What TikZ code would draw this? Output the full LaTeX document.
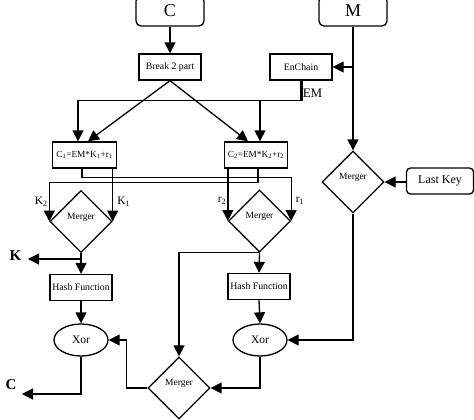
\documentclass[tikz,border=0pt]{standalone}
\usepackage{fontspec}
\setmainfont{Liberation Serif}
\usetikzlibrary{shapes.geometric}
\usetikzlibrary{arrows.meta}

\newcommand{\mergetext}{\raisebox{2.5pt}[0pt][0pt]{Merger}}

\begin{document}
\begin{tikzpicture}[x=1pt,y=-1pt,line width=1.3pt,
  >={Triangle[length=11pt,width=11pt]},
  box/.style={draw,minimum width=62pt,minimum height=26pt,inner sep=1pt,font=\fontsize{9.8}{10}\selectfont},
  term/.style={draw,rounded corners=5pt,minimum width=68pt,minimum height=30pt,font=\fontsize{18}{18}\selectfont},
  merger/.style={draw,diamond,minimum width=62pt,minimum height=62pt,inner sep=0pt,font=\fontsize{9.5}{10}\selectfont},
  xorop/.style={draw,ellipse,minimum width=54pt,minimum height=32pt,inner sep=0pt,font=\fontsize{11.5}{12}\selectfont},
  lbl/.style={font=\fontsize{11.5}{12}\selectfont,inner sep=0pt},
  outlbl/.style={font=\fontsize{15}{15}\selectfont\bfseries,inner sep=0pt}]
  \clip (0,0) rectangle (474,420);
%  top row
  \node[term] (C) at (170,11) {C};
  \node[term] (M) at (353,11) {M};
  \node[box] (break) at (170,67) {Break 2 part};
  \node[box] (enchain) at (301,67) {EnChain};
  \node[box,minimum width=64pt,font=\fontsize{9.3}{10}\selectfont] (c1) at (84.5,155) {C\textsubscript{1}=EM*K\textsubscript{1}+r\textsubscript{1}};
  \node[box,minimum width=63pt,font=\fontsize{9.3}{10}\selectfont] (c2) at (256,155) {C\textsubscript{2}=EM*K\textsubscript{2}+r\textsubscript{2}};
  \node[merger] (mergeL) at (81,221.5) {\mergetext};
  \node[merger] (mergeR) at (259.5,221) {\mergetext};
  \node[merger] (mergeM) at (353,182) {\mergetext};
  \node[box,rounded corners=4pt,minimum width=67pt,font=\fontsize{12}{12}\selectfont] (lastkey) at (440,181) {Last Key};
  \node[box] (hashL) at (81,287.5) {Hash Function};
  \node[box] (hashR) at (259,286.5) {Hash Function};
  \node[xorop] (xorL) at (81,340) {Xor};
  \node[xorop] (xorR) at (260,340) {Xor};
  \node[merger] (mergeB) at (179,388) {\mergetext};
  \coordinate (kout) at (28,259);
  \coordinate (cout) at (22,394);
  \coordinate (emc2) at ([xshift=4pt]c2.north);

  \draw[->] (C.south) -- (break.north);
  \draw[->] (M.south) -- (mergeM.north);
  \draw[->] (M.south |- enchain.east) -- (enchain.east);
  \draw[line width=3pt] (enchain.south) -- ++(0,20) coordinate (emj);
  \node[font=\fontsize{13}{13}\selectfont,inner sep=0pt] at (312.5,93.5) {EM};
  \draw[->] (emj) -| ([xshift=-6.5pt]c1.north);
  \draw[->] (emj -| emc2) -- (emc2);
  \draw[->] (break.south) -- ([xshift=3.5pt]c1.north);
  \draw[->] (break.south) -- ([xshift=-8pt]c2.north);

  \draw[->] ([xshift=-2.5pt]c1.south) -- ++(0,9) -| (mergeR.east);
  \draw[->] ([xshift=2pt]c2.south) -- ++(0,14) -| (mergeL.west);
  \draw[->] (c1.south -| mergeL.east) -- (mergeL.east);
  \draw[->] (c2.south -| mergeR.west) -- (mergeR.west);
  \node[lbl,left] at ([xshift=-1pt,yshift=20pt]mergeL.west) {K\textsubscript{2}};
  \node[lbl,right] at ([xshift=4pt,yshift=20pt]mergeL.east) {K\textsubscript{1}};
  \node[lbl,left] at ([xshift=-1pt,yshift=20pt]mergeR.west) {r\textsubscript{2}};
  \node[lbl,right] at ([xshift=4pt,yshift=20pt]mergeR.east) {r\textsubscript{1}};

  \draw[->] (lastkey.west |- mergeM.east) -- (mergeM.east);
  \draw[->] (mergeL.south) -- (hashL.north);
  \draw[->] (mergeL.south |- kout) -- (kout);
  \node[outlbl,left] at ([xshift=-6pt,yshift=3pt]kout) {K};
  \draw[->] (mergeR.south) -- (hashR.north);
  \draw[->] (mergeR.south) -| (mergeB.north);
  \draw[->] (hashL.south) -- (xorL.north);
  \draw[->] (hashR.south) -- (xorR.north);
  \draw[->] (mergeM.south) |- (xorR.east);
  \draw[->] (xorR.south) |- (mergeB.east);
  \draw[->] (mergeB.west) -- ++(-21,0) |- (xorL.east);
  \draw[->] (xorL.south) |- (cout);
  \node[outlbl,left] at ([xshift=-5pt,yshift=9pt]cout) {C};
\end{tikzpicture}
\end{document}
